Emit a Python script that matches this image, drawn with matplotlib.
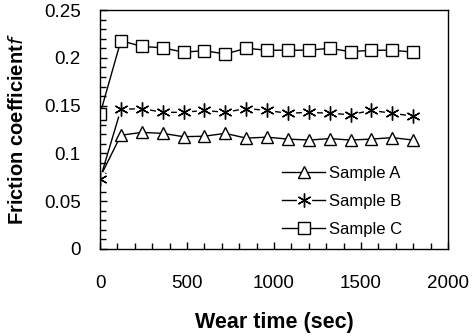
import matplotlib
matplotlib.use("Agg")
import matplotlib.pyplot as plt
from matplotlib.ticker import MultipleLocator, FuncFormatter
from matplotlib.legend_handler import HandlerTuple

plt.rcParams["font.family"] = ["Liberation Sans", "DejaVu Sans"]

# wear time (sec)
wear_time = [0, 120, 240, 360, 480, 600, 720, 840, 960, 1080,
             1200, 1320, 1440, 1560, 1680, 1800]

# friction coefficient per sample
sample_a = [0.075, 0.119, 0.122, 0.121, 0.1175, 0.118, 0.121, 0.116,
            0.117, 0.115, 0.114, 0.1155, 0.114, 0.115, 0.1165, 0.114]
sample_b = [0.073, 0.146, 0.147, 0.143, 0.143, 0.145, 0.143, 0.147,
            0.145, 0.142, 0.143, 0.142, 0.1405, 0.145, 0.142, 0.139]
sample_c = [0.141, 0.218, 0.212, 0.2105, 0.206, 0.2075, 0.204, 0.210,
            0.208, 0.208, 0.208, 0.210, 0.2065, 0.208, 0.208, 0.206]

fig = plt.figure(figsize=(4.74, 3.36), dpi=100)
ax = fig.add_axes([0.211, 0.259, 0.734, 0.711])

line_a, = ax.plot(wear_time, sample_a, color="black", lw=1.0, marker="^",
                  ms=8, mfc="white", mec="black", mew=1.0)

# sample B: line broken around the star markers
line_b, = ax.plot(wear_time, sample_b, color="black", lw=1.0)
gap_b, = ax.plot(wear_time, sample_b, ls="none", marker="o", ms=11,
                 mfc="white", mec="none")
star_b, = ax.plot(wear_time, sample_b, ls="none", marker=(6, 2, 0), ms=10,
                  mec="black", mew=1.0)

line_c, = ax.plot(wear_time, sample_c, color="black", lw=1.0, marker="s",
                  ms=8, mfc="white", mec="black", mew=1.0)

ax.set_xlim(0, 2000)
ax.set_ylim(0, 0.25)
ax.xaxis.set_major_locator(MultipleLocator(500))
ax.xaxis.set_minor_locator(MultipleLocator(100))
ax.yaxis.set_major_locator(MultipleLocator(0.05))
ax.yaxis.set_minor_locator(MultipleLocator(0.01))
ax.yaxis.set_major_formatter(FuncFormatter(
    lambda v, p: "0" if v == 0 else ("%g" % round(v, 2))))

ax.tick_params(which="both", direction="in", top=False, right=False,
               width=1.0, labelsize=13.5)
ax.tick_params(which="major", length=5)
ax.tick_params(which="minor", length=4)
ax.tick_params(axis="x", which="major", pad=19)
ax.tick_params(axis="y", which="major", pad=14)
for sp in ax.spines.values():
    sp.set_linewidth(1.0)

ax.set_xlabel("Wear time (sec)", fontsize=15.5, fontweight="bold", labelpad=14)
ax.set_ylabel(r"Friction coefficient$\it{f}$", fontsize=14.5,
              fontweight="bold", labelpad=12)

ax.legend([line_a, (line_b, gap_b, star_b), line_c],
          ["Sample A", "Sample B", "Sample C"],
          handler_map={tuple: HandlerTuple(ndivide=1)},
          loc="lower left", bbox_to_anchor=(0.523, 0.05), frameon=False,
          fontsize=12, handlelength=2.6, handletextpad=0.2,
          labelspacing=0.78, borderaxespad=0, borderpad=0)

fig.savefig("out.png", dpi=100)
